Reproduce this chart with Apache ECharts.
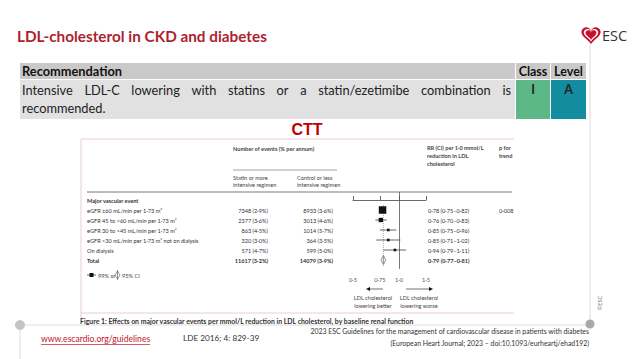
<!DOCTYPE html>
<html><head><meta charset="utf-8">
<script src="https://cdn.jsdelivr.net/npm/echarts@6/dist/echarts.min.js"></script>
<style>html,body{margin:0;padding:0;background:#fff}#c{width:638px;height:359px}</style>
</head><body><div id="c"></div>
<script>
// ---------- data ----------
const slideTitle = 'LDL-cholesterol in CKD and diabetes';
const rowLabels = ['Major vascular event','eGFR ≥60 mL/min per 1·73 m²','eGFR 45 to <60 mL/min per 1·73 m²','eGFR 30 to <45 mL/min per 1·73 m²','eGFR <30 mL/min per 1·73 m² not on dialysis','On dialysis','Total'];
const boldRows = [0, 6];
const statinEvents = [null, 7348, 2377, 863, 320, 571, 11617];
const statinPct = [null, 2.9, 3.6, 4.5, 3.0, 4.7, 3.2];
const controlEvents = [null, 8933, 3013, 1014, 364, 599, 14079];
const controlPct = [null, 3.6, 4.6, 5.7, 3.5, 5.0, 3.9];
const rr = [null, 0.78, 0.76, 0.85, 0.85, 0.94, 0.79];
const rrLow = [null, 0.75, 0.70, 0.75, 0.71, 0.79, 0.77];
const rrHigh = [null, 0.82, 0.83, 0.96, 1.02, 1.11, 0.81];
const pTrend = [null, '0·008', null, null, null, null, null];
const xTicks = [0.5, 0.75, 1.0, 1.5];
const xTickLabels = ['0·5', '0·75', '1·0', '1·5'];
const totalRow = 6;

// ---------- helpers ----------
const FF = 'Lato, "Open Sans", sans-serif';
const md = (v, d) => v.toFixed(d).replace('.', '·');
const cnv = document.createElement('canvas').getContext('2d');
function tw(text, size, weight) { cnv.font = (weight || 'normal') + ' ' + size + 'px ' + FF; return cnv.measureText(text).width; }
function txt(x, y, text, size, opts) {
  opts = opts || {};
  return { type: 'text', silent: true, x: x, y: y, rotation: opts.rotation || 0,
    style: { text: text, fontSize: size, fontFamily: opts.ff || FF, fontWeight: opts.fw || 'normal',
      fill: opts.fill || '#222', align: opts.align || 'left', verticalAlign: opts.va || 'middle' } };
}
function justify(words, x0, x1, y, size) {
  const widths = words.map(w => tw(w, size));
  const total = widths.reduce((a, b) => a + b, 0);
  const gap = (x1 - x0 - total) / (words.length - 1);
  let x = x0; const out = [];
  words.forEach((w, k) => { out.push(txt(x, y, w, size)); x += widths[k] + gap; });
  return out;
}
// heart outline polygon (logo shape)
function heartPts(cx, cy, s) {
  const pts = [];
  for (let k = 0; k < 48; k++) {
    const t = k / 48 * Math.PI * 2;
    const hx = 16 * Math.pow(Math.sin(t), 3);
    const hy = 13 * Math.cos(t) - 5 * Math.cos(2 * t) - 2 * Math.cos(3 * t) - Math.cos(4 * t);
    pts.push([cx + hx * s, cy - hy * s]);
  }
  return pts;
}

// ---------- static slide graphics ----------
const G = [];
G.push(txt(17, 36, slideTitle, 15.3, { fw: 'bold', fill: '#ae1f2f' }));
// ESC logo
G.push({ type: 'polygon', shape: { points: heartPts(591, 34.5, 0.6) }, style: { fill: '#c8102e' } });
G.push({ type: 'polygon', shape: { points: heartPts(591, 34.3, 0.45) }, style: { fill: '#fff' } });
G.push({ type: 'polygon', shape: { points: heartPts(591, 34.2, 0.34) }, style: { fill: '#c8102e' } });
G.push(txt(602, 35, 'ESC', 14.5, { fill: '#333', ff: '"Liberation Sans Narrow", "Open Sans", sans-serif' }));
// side / footer rules
G.push({ type: 'line', shape: { x1: 590, y1: 45, x2: 590, y2: 325 }, style: { stroke: '#dcdcdc', lineWidth: 1 } });
G.push({ type: 'line', shape: { x1: 20, y1: 325, x2: 590, y2: 325 }, style: { stroke: '#dcdcdc', lineWidth: 1 } });
G.push({ type: 'line', shape: { x1: 20, y1: 325, x2: 20, y2: 359 }, style: { stroke: '#dcdcdc', lineWidth: 1 } });
G.push({ type: 'circle', shape: { cx: 20, cy: 325, r: 5 }, style: { fill: '#c4c4c4' } });
G.push({ type: 'circle', shape: { cx: 590, cy: 324, r: 4.5 }, style: { fill: '#a9a9a9' } });
G.push(txt(600, 303, '©ESC', 5.5, { fill: '#777', rotation: Math.PI / 2, align: 'center' }));
// recommendation table
G.push({ type: 'rect', shape: { x: 20, y: 63, width: 495, height: 16 }, style: { fill: '#c9c9c9' } });
G.push({ type: 'rect', shape: { x: 516, y: 63, width: 34, height: 16 }, style: { fill: '#c9c9c9' } });
G.push({ type: 'rect', shape: { x: 551, y: 63, width: 35, height: 16 }, style: { fill: '#c9c9c9' } });
G.push({ type: 'rect', shape: { x: 20, y: 80, width: 495, height: 39 }, style: { fill: '#e1e1e1' } });
G.push({ type: 'rect', shape: { x: 516, y: 80, width: 34, height: 39 }, style: { fill: '#5db887' } });
G.push({ type: 'rect', shape: { x: 551, y: 80, width: 35, height: 39 }, style: { fill: '#138ca0' } });
G.push(txt(22, 71, 'Recommendation', 12.8, { fw: 'bold', fill: '#111' }));
G.push(txt(533, 71, 'Class', 12.5, { fw: 'bold', fill: '#111', align: 'center' }));
G.push(txt(568.5, 71, 'Level', 12.5, { fw: 'bold', fill: '#111', align: 'center' }));
G.push(...justify(['Intensive', 'LDL-C', 'lowering', 'with', 'statins', 'or', 'a', 'statin/ezetimibe', 'combination', 'is'], 22, 511, 90, 12.8));
G.push(txt(22, 107.5, 'recommended.', 12.8));
G.push(txt(533, 89, 'I', 12.5, { fw: 'bold', fill: '#222', align: 'center' }));
G.push(txt(568.5, 89, 'A', 12.5, { fw: 'bold', fill: '#222', align: 'center' }));
G.push(txt(307, 129, 'CTT', 16, { fw: 'bold', fill: '#c00000', align: 'center', ff: '"Liberation Sans", Arial, sans-serif' }));
// figure frame
G.push({ type: 'line', shape: { x1: 81, y1: 139, x2: 514, y2: 139 }, style: { stroke: '#e8cdd3', lineWidth: 1 } });
G.push({ type: 'line', shape: { x1: 81, y1: 139, x2: 81, y2: 318 }, style: { stroke: '#e8cdd3', lineWidth: 1 } });
G.push({ type: 'line', shape: { x1: 81, y1: 313, x2: 514, y2: 313 }, style: { stroke: '#e8cdd3', lineWidth: 1 } });
// figure header
const hs = 5.6, hc = '#444';
G.push(txt(233, 148, 'Number of events (% per annum)', hs, { fw: 'bold', fill: hc }));
G.push({ type: 'line', shape: { x1: 233, y1: 170, x2: 337, y2: 170 }, style: { stroke: '#666', lineWidth: 0.6 } });
G.push(txt(233, 177, 'Statin or more', hs, { fill: hc }));
G.push(txt(233, 184, 'intensive regimen', hs, { fill: hc }));
G.push(txt(297, 177, 'Control or less', hs, { fill: hc }));
G.push(txt(297, 184, 'intensive regimen', hs, { fill: hc }));
G.push(txt(427, 147, 'RR (CI) per 1·0 mmol/L', hs, { fw: 'bold', fill: hc }));
G.push(txt(427, 155, 'reduction in LDL', hs, { fw: 'bold', fill: hc }));
G.push(txt(427, 163, 'cholesterol', hs, { fw: 'bold', fill: hc }));
G.push(txt(499, 147, 'p for', hs, { fw: 'bold', fill: hc }));
G.push(txt(499, 155, 'trend', hs, { fw: 'bold', fill: hc }));
G.push({ type: 'line', shape: { x1: 87, y1: 192, x2: 512, y2: 192 }, style: { stroke: '#555', lineWidth: 0.8 } });
// legend
G.push({ type: 'line', shape: { x1: 87, y1: 275, x2: 96, y2: 275 }, style: { stroke: '#222', lineWidth: 0.7 } });
G.push({ type: 'rect', shape: { x: 89.5, y: 273, width: 4, height: 4 }, style: { fill: '#111' } });
G.push(txt(98, 275, '99% or', hs, { fill: hc }));
G.push({ type: 'polygon', shape: { points: [[115, 275], [117.5, 271], [120, 275], [117.5, 279]] }, style: { fill: '#fff', stroke: '#555', lineWidth: 0.6 } });
G.push({ type: 'line', shape: { x1: 117.5, y1: 270, x2: 117.5, y2: 280 }, style: { stroke: '#555', lineWidth: 0.6 } });
G.push(txt(122, 275, '95% CI', hs, { fill: hc }));
// direction arrows
G.push({ type: 'line', shape: { x1: 383, y1: 289, x2: 369, y2: 289 }, style: { stroke: '#333', lineWidth: 0.7 } });
G.push({ type: 'polygon', shape: { points: [[366, 289], [370, 287], [370, 291]] }, style: { fill: '#111' } });
G.push({ type: 'line', shape: { x1: 406, y1: 289, x2: 430, y2: 289 }, style: { stroke: '#333', lineWidth: 0.7 } });
G.push({ type: 'polygon', shape: { points: [[433, 289], [429, 287], [429, 291]] }, style: { fill: '#111' } });
G.push(txt(373, 297, 'LDL cholesterol', hs, { fill: hc, align: 'center' }));
G.push(txt(373, 305, 'lowering better', hs, { fill: hc, align: 'center' }));
G.push(txt(419, 297, 'LDL cholesterol', hs, { fill: hc, align: 'center' }));
G.push(txt(419, 305, 'lowering worse', hs, { fill: hc, align: 'center' }));
G.push(txt(80, 320.5, 'Figure 1: Effects on major vascular events per mmol/L reduction in LDL cholesterol, by baseline renal function', 6.9, { fw: 'bold', fill: '#333' }));
// footer
const url = 'www.escardio.org/guidelines';
G.push(txt(41, 339, url, 8.6, { fill: '#c0142b' }));
G.push({ type: 'line', shape: { x1: 41, y1: 344.5, x2: 41 + tw(url, 8.6), y2: 344.5 }, style: { stroke: '#c0142b', lineWidth: 0.7 } });
G.push(txt(183, 338, 'LDE 2016; 4: 829-39', 8.2, { fill: '#333' }));
G.push(txt(589, 331, '2023 ESC Guidelines for the management of cardiovascular disease in patients with diabetes', 6.9, { fill: '#333', align: 'right' }));
G.push(txt(589, 343, '(European Heart Journal; 2023 – doi:10.1093/eurheartj/ehad192)', 6.9, { fill: '#333', align: 'right' }));

// ---------- series ----------
const rowsData = rowLabels.map((_, i) => [1, i]);
const ciData = [], sqData = [], sqSize = [];
for (let i = 1; i < rowLabels.length; i++) {
  if (i === totalRow) continue;
  ciData.push([rrLow[i], rrHigh[i], i]);
  sqData.push([rr[i], i]);
  sqSize.push(Math.max(2.6, 7.5 * Math.sqrt((statinEvents[i] + controlEvents[i]) / (statinEvents[1] + controlEvents[1]))));
}
const fs = 5.6;
function renderRowText(params, api) {
  const i = api.value(1);
  const y = api.coord([1, i])[1];
  const fw = boldRows.indexOf(i) >= 0 ? 'bold' : 'normal';
  const col = '#333';
  const ch = [txt(87, y, rowLabels[i], fs, { fw: fw, fill: col })];
  if (statinEvents[i] != null) {
    ch.push(txt(268, y, statinEvents[i] + ' (' + md(statinPct[i], 1) + '%)', fs, { fw: fw, fill: col, align: 'right' }));
    ch.push(txt(333, y, controlEvents[i] + ' (' + md(controlPct[i], 1) + '%)', fs, { fw: fw, fill: col, align: 'right' }));
    ch.push(txt(428, y, md(rr[i], 2) + ' (' + md(rrLow[i], 2) + '–' + md(rrHigh[i], 2) + ')', fs, { fw: fw, fill: col }));
  }
  if (pTrend[i]) ch.push(txt(499, y, pTrend[i], fs, { fill: col }));
  return { type: 'group', children: ch };
}
function renderCI(params, api) {
  const p1 = api.coord([api.value(0), api.value(2)]);
  const p2 = api.coord([api.value(1), api.value(2)]);
  return { type: 'line', shape: { x1: p1[0], y1: p1[1], x2: p2[0], y2: p2[1] }, style: { stroke: '#222', lineWidth: 0.7 } };
}
function renderTotal(params, api) {
  const r = api.value(2);
  const l = api.coord([api.value(0), r]);
  const c = api.coord([api.value(1), r]);
  const h = api.coord([api.value(3), r]);
  const dy = 4.5;
  const top = api.coord([api.value(1), r - 5.5])[1];
  return { type: 'group', children: [
    { type: 'line', shape: { x1: c[0], y1: top, x2: c[0], y2: c[1] + dy + 1.5 }, style: { stroke: '#777', lineWidth: 0.6, lineDash: [1, 1] } },
    { type: 'polygon', shape: { points: [[l[0] - 0.8, c[1]], [c[0], c[1] - dy], [h[0] + 0.8, c[1]], [c[0], c[1] + dy]] }, style: { fill: '#f4f4f4', stroke: '#555', lineWidth: 0.6 } },
    { type: 'line', shape: { x1: c[0], y1: c[1] - dy + 1, x2: c[0], y2: c[1] + dy - 1 }, style: { stroke: '#555', lineWidth: 0.6 } }
  ] };
}

const chart = echarts.init(document.getElementById('c'), null, { renderer: 'svg' });
chart.setOption({
  animation: false,
  backgroundColor: '#fff',
  graphic: { elements: G },
  grid: { left: 353, top: 192, width: 73, height: 77, containLabel: false },
  xAxis: {
    type: 'log', min: 0.5, max: 1.5, logBase: 10,
    axisLine: { show: true, lineStyle: { color: '#444', width: 0.8 } },
    axisTick: { show: true, inside: true, length: 4, customValues: xTicks, lineStyle: { color: '#444', width: 0.8 } },
    axisLabel: { show: true, customValues: xTicks, margin: 7, fontSize: 5.6, color: '#555', fontFamily: FF,
      formatter: v => { let k = 0; xTicks.forEach((t, j) => { if (Math.abs(t - v) < Math.abs(xTicks[k] - v)) k = j; }); return xTickLabels[k]; } },
    splitLine: { show: false }, minorTick: { show: false }
  },
  yAxis: { type: 'value', min: -0.8, max: 6.9, inverse: true, show: false, splitLine: { show: false } },
  series: [
    { type: 'custom', name: 'rows', clip: false, silent: true, renderItem: renderRowText, data: rowsData, z: 5 },
    { type: 'custom', name: 'ci', clip: false, silent: true, renderItem: renderCI, data: ciData, z: 3 },
    { type: 'custom', name: 'total', clip: false, silent: true, renderItem: renderTotal,
      data: [[rrLow[totalRow], rr[totalRow], totalRow, rrHigh[totalRow]]], z: 2 },
    { type: 'scatter', name: 'rr', symbol: 'rect', silent: true, data: sqData,
      symbolSize: (v, p) => sqSize[p.dataIndex], itemStyle: { color: '#111', opacity: 1 }, z: 4,
      markLine: { silent: true, symbol: 'none', label: { show: false }, lineStyle: { color: '#555', width: 0.8, type: 'solid' },
        data: [{ xAxis: 1 }] } }
  ]
});
</script>
</body></html>
